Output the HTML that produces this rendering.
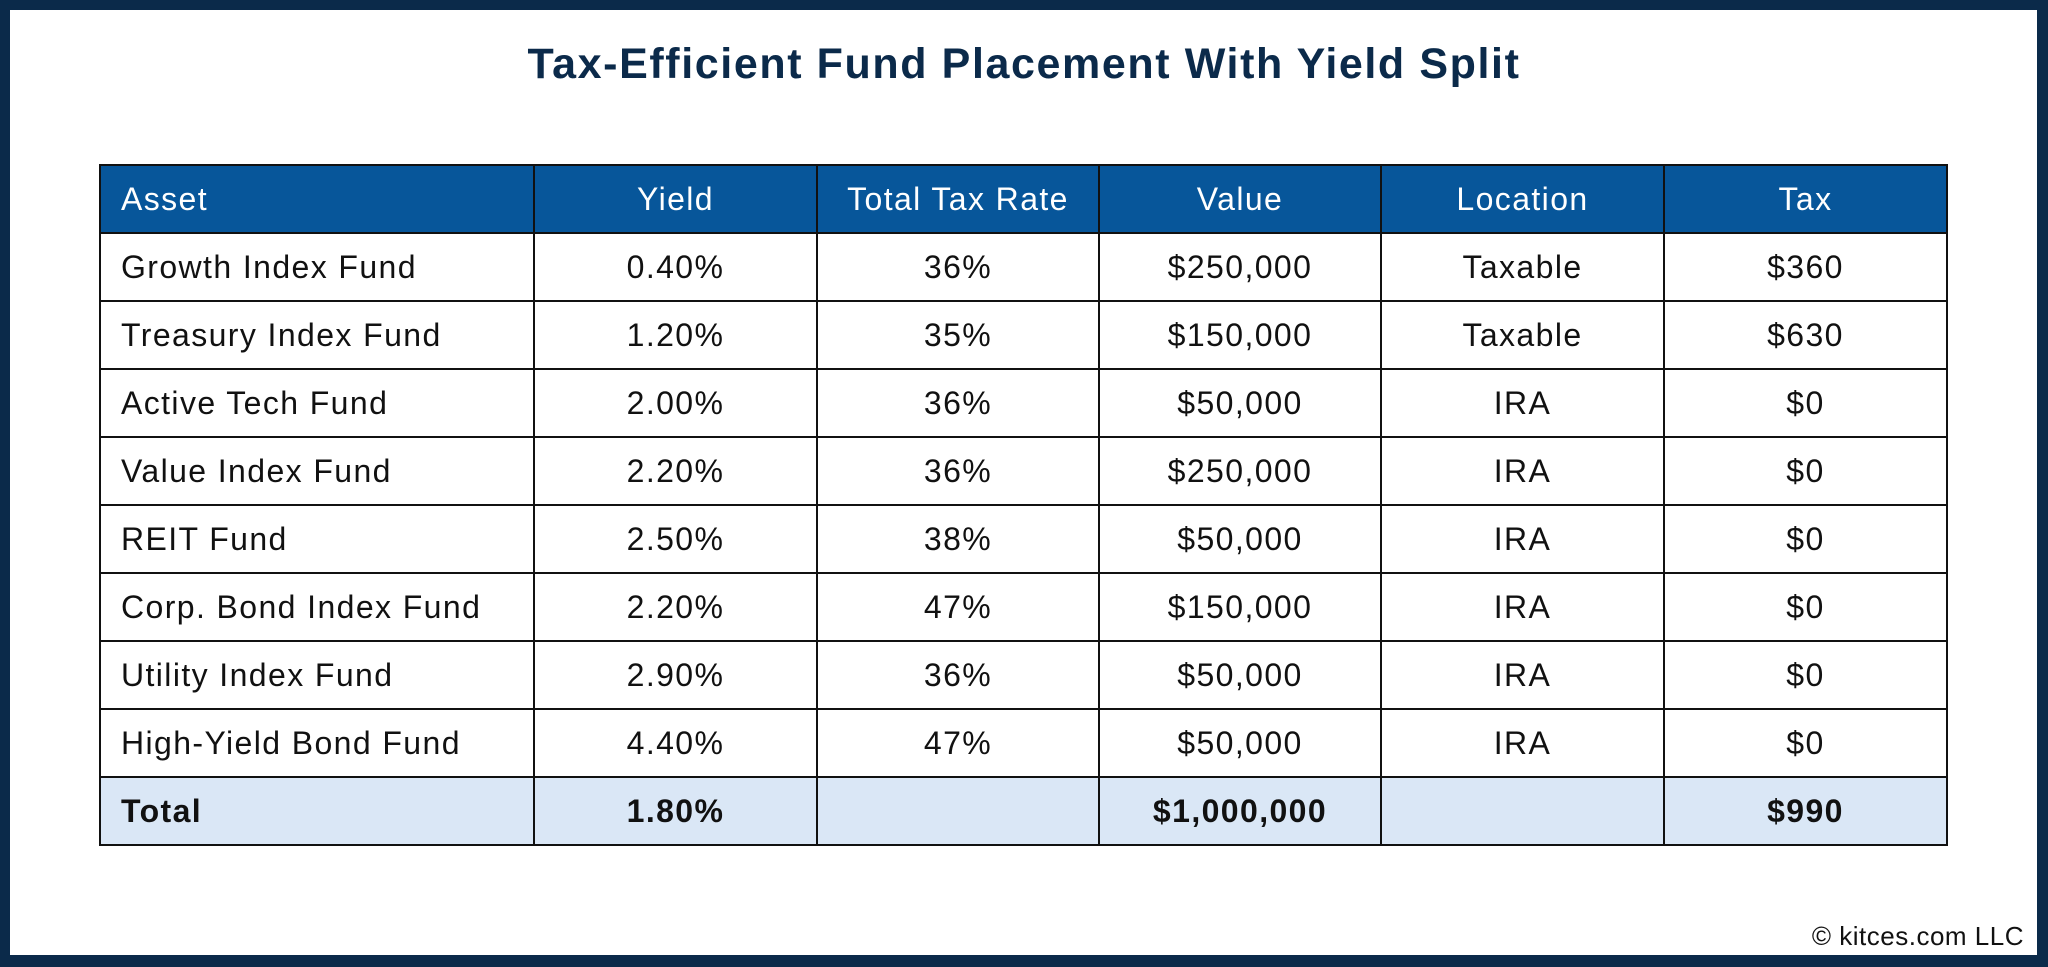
<!DOCTYPE html>
<html><head><style>
html,body{margin:0;padding:0;}
body{width:2048px;height:967px;position:relative;background:#0b2a4a;overflow:hidden;font-family:"Liberation Sans",sans-serif;}
.inner{position:absolute;left:10px;top:10px;width:2027px;height:945px;background:#fff;}
.title{position:absolute;left:0;width:2048px;text-align:center;top:40px;font-size:43px;font-weight:bold;color:#0b2a4a;letter-spacing:1.6px;}
table{position:absolute;left:99px;top:164px;border-collapse:collapse;}
td,th{border:2.5px solid #111;height:66px;padding:0;font-size:32px;color:#111;text-align:center;letter-spacing:1.4px;}
th{background:#07569a;color:#fff;font-weight:normal;}
td:first-child,th:first-child{text-align:left;padding-left:20px;}
tr.tot td{background:#dae7f6;font-weight:bold;}
.foot{position:absolute;right:24px;top:921px;font-size:26px;color:#111;letter-spacing:0.5px;}
</style></head><body>
<div class="inner"></div>
<div class="title">Tax-Efficient Fund Placement With Yield Split</div>
<table>
<colgroup><col style="width:434px"><col style="width:283px"><col style="width:282px"><col style="width:282px"><col style="width:283px"><col style="width:283px"></colgroup>
<tr><th>Asset</th><th>Yield</th><th>Total Tax Rate</th><th>Value</th><th>Location</th><th>Tax</th></tr>
<tr><td>Growth Index Fund</td><td>0.40%</td><td>36%</td><td>$250,000</td><td>Taxable</td><td>$360</td></tr>
<tr><td>Treasury Index Fund</td><td>1.20%</td><td>35%</td><td>$150,000</td><td>Taxable</td><td>$630</td></tr>
<tr><td>Active Tech Fund</td><td>2.00%</td><td>36%</td><td>$50,000</td><td>IRA</td><td>$0</td></tr>
<tr><td>Value Index Fund</td><td>2.20%</td><td>36%</td><td>$250,000</td><td>IRA</td><td>$0</td></tr>
<tr><td>REIT Fund</td><td>2.50%</td><td>38%</td><td>$50,000</td><td>IRA</td><td>$0</td></tr>
<tr><td>Corp. Bond Index Fund</td><td>2.20%</td><td>47%</td><td>$150,000</td><td>IRA</td><td>$0</td></tr>
<tr><td>Utility Index Fund</td><td>2.90%</td><td>36%</td><td>$50,000</td><td>IRA</td><td>$0</td></tr>
<tr><td>High-Yield Bond Fund</td><td>4.40%</td><td>47%</td><td>$50,000</td><td>IRA</td><td>$0</td></tr>
<tr class="tot"><td>Total</td><td>1.80%</td><td></td><td>$1,000,000</td><td></td><td>$990</td></tr>
</table>
<div class="foot">© kitces.com LLC</div>
</body></html>
